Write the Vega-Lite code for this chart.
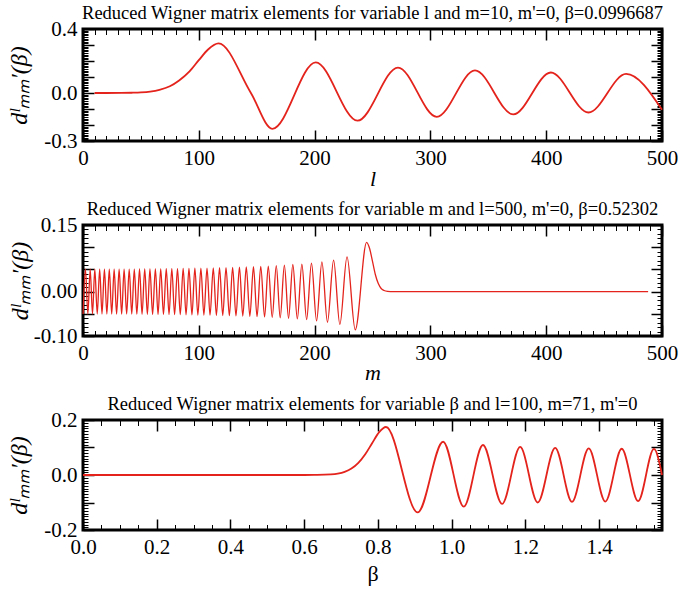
{
  "$schema": "https://vega.github.io/schema/vega-lite/v6.json",
  "background": "white",
  "padding": {"left": 6, "top": 2, "right": 0, "bottom": 0},
  "bounds": "flush",
  "spacing": 84,
  "config": {
    "view": {"stroke": "black", "strokeWidth": 3},
    "font": "Liberation Serif",
    "axis": {"grid": false, "domain": false, "labelFont": "Liberation Serif", "labelFontSize": 21, "labelColor": "black", "tickColor": "black", "tickWidth": 1.5, "labelOverlap": false, "labelFlush": false, "titleFont": "Liberation Serif", "titleFontWeight": "normal", "titleColor": "black"},
    "title": {"font": "Liberation Serif", "fontSize": 18.5, "fontWeight": "normal", "color": "black", "offset": -4, "frame": "group"},
    "line": {"color": "#e3231c", "strokeWidth": 1.8, "interpolate": "monotone"}
  },
  "vconcat": [
    {
      "width": 579, "height": 112,
      "title": "Reduced Wigner matrix elements for variable l and m=10, m'=0, β=0.0996687",
      "data": {"values": [
        {"l": 10, "d": 0}, {"l": 20, "d": 0}, {"l": 33, "d": 0.0005}, {"l": 42, "d": 0.0016}, {"l": 50, "d": 0.0038}, {"l": 58, "d": 0.0091}, {"l": 66, "d": 0.02}, {"l": 75, "d": 0.042}, {"l": 83, "d": 0.078}, {"l": 92, "d": 0.135}, {"l": 100, "d": 0.205}, {"l": 108, "d": 0.272}, {"l": 117, "d": 0.31}, {"l": 145, "d": 0}, {"l": 163.5, "d": -0.224}, {"l": 201, "d": 0.191}, {"l": 237, "d": -0.173}, {"l": 272, "d": 0.159}, {"l": 305.5, "d": -0.149}, {"l": 338.5, "d": 0.141}, {"l": 371.5, "d": -0.134}, {"l": 404, "d": 0.128}, {"l": 436.5, "d": -0.122}, {"l": 469, "d": 0.119}, {"l": 500, "d": -0.105}
      ]},
      "resolve": {"axis": {"x": "independent", "y": "independent"}},
      "layer": [
        {"mark": {"type": "line"},
         "encoding": {
           "x": {"field": "l", "type": "quantitative", "scale": {"domain": [0, 500], "nice": false, "zero": false},
                 "axis": {"orient": "bottom", "values": [0, 100, 200, 300, 400, 500], "tickSize": -11, "labelPadding": 17, "format": "d", "labelFont": "Liberation Serif", "title": "l", "titleFont": "Liberation Serif", "titleFontStyle": "italic", "titleFontSize": 22, "titlePadding": 0}},
           "y": {"field": "d", "type": "quantitative", "scale": {"domain": [-0.3, 0.4], "nice": false, "zero": false},
                 "axis": {"orient": "left", "values": [-0.3, -0.2, -0.1, 0, 0.1, 0.2, 0.3, 0.4], "tickSize": -11, "labelPadding": 17, "labelFont": "Liberation Serif", "labelExpr": "datum.value > 0.35 ? '0.4' : (abs(datum.value) < 0.001 ? '0.0' : (datum.value < -0.25 ? '-0.3' : ''))", "title": "dˡₘₘ′(β)", "titleFont": "Liberation Serif", "titleFontStyle": "italic", "titleFontSize": 24, "titlePadding": 12}}
         }},
        {"mark": {"type": "line", "strokeOpacity": 0},
         "encoding": {
           "x": {"field": "l", "type": "quantitative", "axis": {"orient": "bottom", "values": [0,10,20,30,40,50,60,70,80,90,100,110,120,130,140,150,160,170,180,190,200,210,220,230,240,250,260,270,280,290,300,310,320,330,340,350,360,370,380,390,400,410,420,430,440,450,460,470,480,490,500], "tickSize": -5.5, "tickWidth": 1, "labels": false, "title": null}},
           "y": {"field": "d", "type": "quantitative", "axis": {"orient": "left", "values": [-0.3,-0.29,-0.28,-0.27,-0.26,-0.25,-0.24,-0.23,-0.22,-0.21,-0.2,-0.19,-0.18,-0.17,-0.16,-0.15,-0.14,-0.13,-0.12,-0.11,-0.1,-0.09,-0.08,-0.07,-0.06,-0.05,-0.04,-0.03,-0.02,-0.01,0,0.01,0.02,0.03,0.04,0.05,0.06,0.07,0.08,0.09,0.1,0.11,0.12,0.13,0.14,0.15,0.16,0.17,0.18,0.19,0.2,0.21,0.22,0.23,0.24,0.25,0.26,0.27,0.28,0.29,0.3,0.31,0.32,0.33,0.34,0.35,0.36,0.37,0.38,0.39,0.4], "tickSize": -5, "tickWidth": 1, "labels": false, "title": null}}
         }},
        {"mark": {"type": "line", "strokeOpacity": 0},
         "encoding": {
           "x": {"field": "l", "type": "quantitative", "axis": {"orient": "top", "values": [0, 100, 200, 300, 400, 500], "tickSize": -11, "labels": false, "title": null}},
           "y": {"field": "d", "type": "quantitative", "axis": {"orient": "right", "values": [-0.3, -0.2, -0.1, 0, 0.1, 0.2, 0.3, 0.4], "tickSize": -11, "labels": false, "title": null}}
         }},
        {"mark": {"type": "line", "strokeOpacity": 0},
         "encoding": {
           "x": {"field": "l", "type": "quantitative", "axis": {"orient": "top", "values": [0,10,20,30,40,50,60,70,80,90,100,110,120,130,140,150,160,170,180,190,200,210,220,230,240,250,260,270,280,290,300,310,320,330,340,350,360,370,380,390,400,410,420,430,440,450,460,470,480,490,500], "tickSize": -5.5, "tickWidth": 1, "labels": false, "title": null}},
           "y": {"field": "d", "type": "quantitative", "axis": {"orient": "right", "values": [-0.3,-0.29,-0.28,-0.27,-0.26,-0.25,-0.24,-0.23,-0.22,-0.21,-0.2,-0.19,-0.18,-0.17,-0.16,-0.15,-0.14,-0.13,-0.12,-0.11,-0.1,-0.09,-0.08,-0.07,-0.06,-0.05,-0.04,-0.03,-0.02,-0.01,0,0.01,0.02,0.03,0.04,0.05,0.06,0.07,0.08,0.09,0.1,0.11,0.12,0.13,0.14,0.15,0.16,0.17,0.18,0.19,0.2,0.21,0.22,0.23,0.24,0.25,0.26,0.27,0.28,0.29,0.3,0.31,0.32,0.33,0.34,0.35,0.36,0.37,0.38,0.39,0.4], "tickSize": -5, "tickWidth": 1, "labels": false, "title": null}}
         }}
      ]
    },
    {
      "width": 579, "height": 111,
      "title": "Reduced Wigner matrix elements for variable m and l=500, m'=0, β=0.52302",
      "data": {"values": [
        {"m": 0.1, "d": -0.0505}, {"m": 2.1, "d": 0.0505}, {"m": 4.2, "d": -0.0505}, {"m": 6.2, "d": 0.0505}, {"m": 8.2, "d": -0.0505}, {"m": 10.2, "d": 0.0505}, {"m": 12.3, "d": -0.0505}, {"m": 14.4, "d": 0.0505}, {"m": 16.4, "d": -0.0505}, {"m": 18.5, "d": 0.0505}, {"m": 20.6, "d": -0.0505}, {"m": 22.7, "d": 0.0506}, {"m": 24.8, "d": -0.0506}, {"m": 26.9, "d": 0.0506}, {"m": 29.0, "d": -0.0506}, {"m": 31.2, "d": 0.0506}, {"m": 33.4, "d": -0.0507}, {"m": 35.5, "d": 0.0507}, {"m": 37.7, "d": -0.0507}, {"m": 39.9, "d": 0.0508}, {"m": 42.1, "d": -0.0508}, {"m": 44.3, "d": 0.0508}, {"m": 46.5, "d": -0.0509}, {"m": 48.8, "d": 0.0509}, {"m": 51.0, "d": -0.051}, {"m": 53.3, "d": 0.051}, {"m": 55.6, "d": -0.0511}, {"m": 57.8, "d": 0.0511}, {"m": 60.1, "d": -0.0512}, {"m": 62.5, "d": 0.0512}, {"m": 64.8, "d": -0.0513}, {"m": 67.1, "d": 0.0513}, {"m": 69.5, "d": -0.0514}, {"m": 71.9, "d": 0.0515}, {"m": 74.3, "d": -0.0516}, {"m": 76.7, "d": 0.0517}, {"m": 79.1, "d": -0.0518}, {"m": 81.6, "d": 0.0519}, {"m": 84.0, "d": -0.052}, {"m": 86.5, "d": 0.0521}, {"m": 89.0, "d": -0.0522}, {"m": 91.5, "d": 0.0523}, {"m": 94.1, "d": -0.0525}, {"m": 96.6, "d": 0.0526}, {"m": 99.2, "d": -0.0527}, {"m": 101.8, "d": 0.0528}, {"m": 104.4, "d": -0.0529}, {"m": 107.1, "d": 0.053}, {"m": 109.7, "d": -0.0531}, {"m": 112.5, "d": 0.0533}, {"m": 115.2, "d": -0.0535}, {"m": 117.9, "d": 0.0537}, {"m": 120.7, "d": -0.0539}, {"m": 123.5, "d": 0.0541}, {"m": 126.4, "d": -0.0543}, {"m": 129.2, "d": 0.0545}, {"m": 132.1, "d": -0.0547}, {"m": 135.1, "d": 0.055}, {"m": 138.0, "d": -0.0552}, {"m": 141.0, "d": 0.0554}, {"m": 144.1, "d": -0.0557}, {"m": 147.2, "d": 0.056}, {"m": 150.3, "d": -0.0563}, {"m": 153.5, "d": 0.0567}, {"m": 156.8, "d": -0.057}, {"m": 160.0, "d": 0.0575}, {"m": 163.4, "d": -0.058}, {"m": 166.9, "d": 0.0585}, {"m": 170.3, "d": -0.059}, {"m": 173.9, "d": 0.0595}, {"m": 177.5, "d": -0.06}, {"m": 181.2, "d": 0.061}, {"m": 185.1, "d": -0.0615}, {"m": 189.0, "d": 0.062}, {"m": 193.1, "d": -0.063}, {"m": 197.3, "d": 0.064}, {"m": 201.7, "d": -0.066}, {"m": 206.3, "d": 0.067}, {"m": 211.1, "d": -0.069}, {"m": 216.4, "d": 0.071}, {"m": 221.8, "d": -0.074}, {"m": 228.0, "d": 0.078}, {"m": 235.1, "d": -0.086}, {"m": 244.9, "d": 0.111}, {"m": 247.5, "d": 0.097}, {"m": 250, "d": 0.068}, {"m": 252.5, "d": 0.038}, {"m": 255, "d": 0.018}, {"m": 257.5, "d": 0.007}, {"m": 260, "d": 0.0025}, {"m": 263, "d": 0.0006}, {"m": 268, "d": 0}, {"m": 488, "d": 0}
      ]},
      "resolve": {"axis": {"x": "independent", "y": "independent"}},
      "layer": [
        {"mark": {"type": "line", "strokeWidth": 1.3},
         "encoding": {
           "x": {"field": "m", "type": "quantitative", "scale": {"domain": [0, 500], "nice": false, "zero": false},
                 "axis": {"orient": "bottom", "values": [0, 100, 200, 300, 400, 500], "tickSize": -11, "labelPadding": 17, "format": "d", "labelFont": "Liberation Serif", "title": "m", "titleFont": "Liberation Serif", "titleFontStyle": "italic", "titleFontSize": 22, "titlePadding": -1}},
           "y": {"field": "d", "type": "quantitative", "scale": {"domain": [-0.1, 0.15], "nice": false, "zero": false},
                 "axis": {"orient": "left", "values": [-0.1, -0.05, 0, 0.05, 0.1, 0.15], "tickSize": -11, "labelPadding": 17, "labelFont": "Liberation Serif", "labelExpr": "datum.value > 0.12 ? '0.15' : (abs(datum.value) < 0.001 ? '0.00' : (datum.value < -0.08 ? '-0.10' : ''))", "title": "dˡₘₘ′(β)", "titleFont": "Liberation Serif", "titleFontStyle": "italic", "titleFontSize": 24, "titlePadding": 1}}
         }},
        {"mark": {"type": "line", "strokeOpacity": 0},
         "encoding": {
           "x": {"field": "m", "type": "quantitative", "axis": {"orient": "bottom", "values": [0,10,20,30,40,50,60,70,80,90,100,110,120,130,140,150,160,170,180,190,200,210,220,230,240,250,260,270,280,290,300,310,320,330,340,350,360,370,380,390,400,410,420,430,440,450,460,470,480,490,500], "tickSize": -5.5, "tickWidth": 1, "labels": false, "title": null}},
           "y": {"field": "d", "type": "quantitative", "axis": {"orient": "left", "values": [-0.1,-0.09,-0.08,-0.07,-0.06,-0.05,-0.04,-0.03,-0.02,-0.01,0,0.01,0.02,0.03,0.04,0.05,0.06,0.07,0.08,0.09,0.1,0.11,0.12,0.13,0.14,0.15], "tickSize": -5, "tickWidth": 1, "labels": false, "title": null}}
         }},
        {"mark": {"type": "line", "strokeOpacity": 0},
         "encoding": {
           "x": {"field": "m", "type": "quantitative", "axis": {"orient": "top", "values": [0, 100, 200, 300, 400, 500], "tickSize": -11, "labels": false, "title": null}},
           "y": {"field": "d", "type": "quantitative", "axis": {"orient": "right", "values": [-0.1, -0.05, 0, 0.05, 0.1, 0.15], "tickSize": -11, "labels": false, "title": null}}
         }},
        {"mark": {"type": "line", "strokeOpacity": 0},
         "encoding": {
           "x": {"field": "m", "type": "quantitative", "axis": {"orient": "top", "values": [0,10,20,30,40,50,60,70,80,90,100,110,120,130,140,150,160,170,180,190,200,210,220,230,240,250,260,270,280,290,300,310,320,330,340,350,360,370,380,390,400,410,420,430,440,450,460,470,480,490,500], "tickSize": -5.5, "tickWidth": 1, "labels": false, "title": null}},
           "y": {"field": "d", "type": "quantitative", "axis": {"orient": "right", "values": [-0.1,-0.09,-0.08,-0.07,-0.06,-0.05,-0.04,-0.03,-0.02,-0.01,0,0.01,0.02,0.03,0.04,0.05,0.06,0.07,0.08,0.09,0.1,0.11,0.12,0.13,0.14,0.15], "tickSize": -5, "tickWidth": 1, "labels": false, "title": null}}
         }}
      ]
    },
    {
      "width": 579, "height": 110,
      "title": "Reduced Wigner matrix elements for variable β and l=100, m=71, m'=0",
      "data": {"values": [
        {"beta": 0, "d": 0}, {"beta": 0.5, "d": 0}, {"beta": 0.6, "d": 0.00003}, {"beta": 0.635, "d": 0.0003}, {"beta": 0.6724, "d": 0.0022}, {"beta": 0.691, "d": 0.0051}, {"beta": 0.7097, "d": 0.0114}, {"beta": 0.7283, "d": 0.0233}, {"beta": 0.747, "d": 0.044}, {"beta": 0.7657, "d": 0.0754}, {"beta": 0.7843, "d": 0.1156}, {"beta": 0.803, "d": 0.155}, {"beta": 0.822, "d": 0.1745}, {"beta": 0.908, "d": -0.136}, {"beta": 0.977, "d": 0.121}, {"beta": 1.033, "d": -0.115}, {"beta": 1.085, "d": 0.109}, {"beta": 1.137, "d": -0.105}, {"beta": 1.186, "d": 0.102}, {"beta": 1.2336, "d": -0.1}, {"beta": 1.281, "d": 0.0985}, {"beta": 1.3266, "d": -0.0975}, {"beta": 1.372, "d": 0.097}, {"beta": 1.417, "d": -0.0965}, {"beta": 1.4615, "d": 0.0955}, {"beta": 1.506, "d": -0.095}, {"beta": 1.549, "d": 0.095}, {"beta": 1.5708, "d": 0}
      ]},
      "resolve": {"axis": {"x": "independent", "y": "independent"}},
      "layer": [
        {"mark": {"type": "line"},
         "encoding": {
           "x": {"field": "beta", "type": "quantitative", "scale": {"domain": [0, 1.5708], "nice": false, "zero": false},
                 "axis": {"orient": "bottom", "values": [0, 0.2, 0.4, 0.6, 0.8, 1.0, 1.2, 1.4], "tickSize": -11, "labelPadding": 17, "format": ".1f", "labelFont": "Liberation Serif", "title": "β", "titleFont": "Liberation Serif", "titleFontSize": 22, "titlePadding": 6}},
           "y": {"field": "d", "type": "quantitative", "scale": {"domain": [-0.2, 0.2], "nice": false, "zero": false},
                 "axis": {"orient": "left", "values": [-0.2, -0.1, 0, 0.1, 0.2], "tickSize": -11, "labelPadding": 17, "labelFont": "Liberation Serif", "labelExpr": "datum.value > 0.15 ? '0.2' : (abs(datum.value) < 0.001 ? '0.0' : (datum.value < -0.15 ? '-0.2' : ''))", "title": "dˡₘₘ′(β)", "titleFont": "Liberation Serif", "titleFontStyle": "italic", "titleFontSize": 24, "titlePadding": 12}}
         }},
        {"mark": {"type": "line", "strokeOpacity": 0},
         "encoding": {
           "x": {"field": "beta", "type": "quantitative", "axis": {"orient": "bottom", "values": [0,0.05,0.1,0.15,0.2,0.25,0.3,0.35,0.4,0.45,0.5,0.55,0.6,0.65,0.7,0.75,0.8,0.85,0.9,0.95,1.0,1.05,1.1,1.15,1.2,1.25,1.3,1.35,1.4,1.45,1.5,1.55], "tickSize": -5.5, "tickWidth": 1, "labels": false, "title": null}},
           "y": {"field": "d", "type": "quantitative", "axis": {"orient": "left", "values": [-0.2,-0.19,-0.18,-0.17,-0.16,-0.15,-0.14,-0.13,-0.12,-0.11,-0.1,-0.09,-0.08,-0.07,-0.06,-0.05,-0.04,-0.03,-0.02,-0.01,0,0.01,0.02,0.03,0.04,0.05,0.06,0.07,0.08,0.09,0.1,0.11,0.12,0.13,0.14,0.15,0.16,0.17,0.18,0.19,0.2], "tickSize": -5, "tickWidth": 1, "labels": false, "title": null}}
         }},
        {"mark": {"type": "line", "strokeOpacity": 0},
         "encoding": {
           "x": {"field": "beta", "type": "quantitative", "axis": {"orient": "top", "values": [0, 0.2, 0.4, 0.6, 0.8, 1.0, 1.2, 1.4], "tickSize": -11, "labels": false, "title": null}},
           "y": {"field": "d", "type": "quantitative", "axis": {"orient": "right", "values": [-0.2, -0.1, 0, 0.1, 0.2], "tickSize": -11, "labels": false, "title": null}}
         }},
        {"mark": {"type": "line", "strokeOpacity": 0},
         "encoding": {
           "x": {"field": "beta", "type": "quantitative", "axis": {"orient": "top", "values": [0,0.05,0.1,0.15,0.2,0.25,0.3,0.35,0.4,0.45,0.5,0.55,0.6,0.65,0.7,0.75,0.8,0.85,0.9,0.95,1.0,1.05,1.1,1.15,1.2,1.25,1.3,1.35,1.4,1.45,1.5,1.55], "tickSize": -5.5, "tickWidth": 1, "labels": false, "title": null}},
           "y": {"field": "d", "type": "quantitative", "axis": {"orient": "right", "values": [-0.2,-0.19,-0.18,-0.17,-0.16,-0.15,-0.14,-0.13,-0.12,-0.11,-0.1,-0.09,-0.08,-0.07,-0.06,-0.05,-0.04,-0.03,-0.02,-0.01,0,0.01,0.02,0.03,0.04,0.05,0.06,0.07,0.08,0.09,0.1,0.11,0.12,0.13,0.14,0.15,0.16,0.17,0.18,0.19,0.2], "tickSize": -5, "tickWidth": 1, "labels": false, "title": null}}
         }}
      ]
    }
  ]
}
